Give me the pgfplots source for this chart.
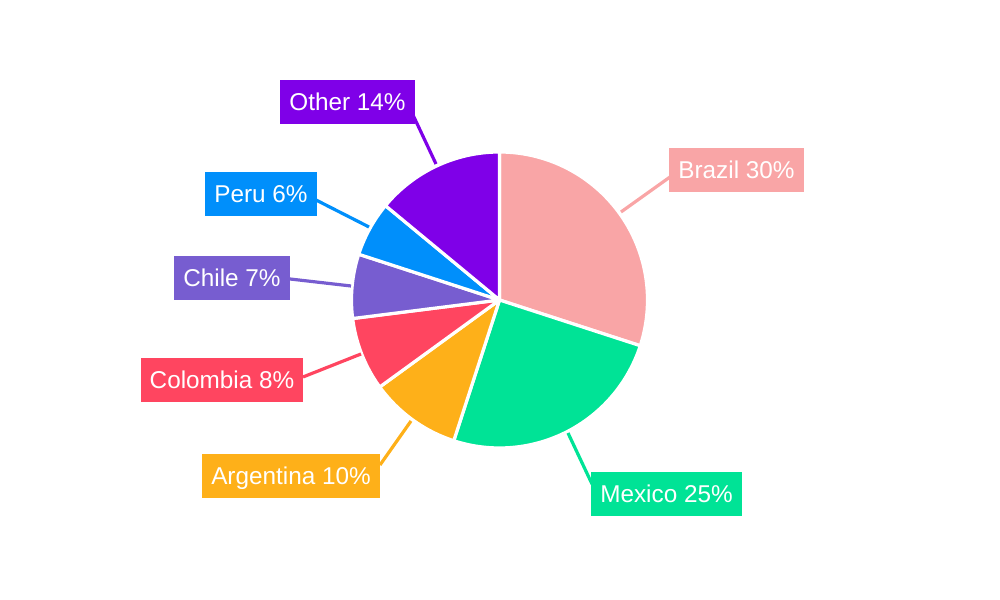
\documentclass[border=0pt]{standalone}
\usepackage{fontspec}
\setmainfont{Liberation Sans}
\usepackage{pgfplots}
\pgfplotsset{compat=1.18}

\definecolor{cBrazil}{HTML}{F9A5A6}
\definecolor{cMexico}{HTML}{00E396}
\definecolor{cArgentina}{HTML}{FEB019}
\definecolor{cColombia}{HTML}{FF4560}
\definecolor{cChile}{HTML}{775DD0}
\definecolor{cPeru}{HTML}{008FFB}
\definecolor{cOther}{HTML}{7F00E8}

\tikzset{
  slice/.style={draw=white, line width=1.6bp, line join=round},
  lead/.style={line width=1.6bp},
  lbl/.style={text=white, inner xsep=4.6bp, inner ysep=0pt,
    text height=8.7bp, text depth=0pt, minimum height=22bp,
    font=\fontsize{12.2}{14}\selectfont, anchor=center},
}

% shares: Brazil 30, Mexico 25, Argentina 10, Colombia 8, Chile 7, Peru 6, Other 14
% slices start at 12 o'clock and run clockwise (3.6 degrees per percent)

\begin{document}
\begin{tikzpicture}
\begin{axis}[
  scale only axis,
  width=500bp, height=300bp,
  xmin=0, xmax=1000, ymin=0, ymax=600,
  hide axis, clip=false,
  samples=60,
]
\addplot[slice, fill=cBrazil,    domain=-18:90]       ({499.5+148*cos(x)},{300+148*sin(x)}) -- (axis cs:499.5,300) -- cycle;
\addplot[slice, fill=cMexico,    domain=-108:-18]     ({499.5+148*cos(x)},{300+148*sin(x)}) -- (axis cs:499.5,300) -- cycle;
\addplot[slice, fill=cArgentina, domain=-144:-108]    ({499.5+148*cos(x)},{300+148*sin(x)}) -- (axis cs:499.5,300) -- cycle;
\addplot[slice, fill=cColombia,  domain=-172.8:-144]  ({499.5+148*cos(x)},{300+148*sin(x)}) -- (axis cs:499.5,300) -- cycle;
\addplot[slice, fill=cChile,     domain=-198:-172.8]  ({499.5+148*cos(x)},{300+148*sin(x)}) -- (axis cs:499.5,300) -- cycle;
\addplot[slice, fill=cPeru,      domain=-219.6:-198]  ({499.5+148*cos(x)},{300+148*sin(x)}) -- (axis cs:499.5,300) -- cycle;
\addplot[slice, fill=cOther,     domain=-270:-219.6]  ({499.5+148*cos(x)},{300+148*sin(x)}) -- (axis cs:499.5,300) -- cycle;

% leader lines
\addplot[lead, mark=none, cBrazil]    coordinates {(621,388) (670,423)};
\addplot[lead, mark=none, cMexico]    coordinates {(568,167) (592,116)};
\addplot[lead, mark=none, cArgentina] coordinates {(411,179) (380,135)};
\addplot[lead, mark=none, cColombia]  coordinates {(361,246) (303,223)};
\addplot[lead, mark=none, cChile]     coordinates {(351,314) (290,321)};
\addplot[lead, mark=none, cPeru]      coordinates {(369,373) (316,400)};
\addplot[lead, mark=none, cOther]     coordinates {(436,436) (413,485)};

\node[lbl, fill=cBrazil]    at (axis cs:736.5,430) {Brazil 30\%};
\node[lbl, fill=cMexico]    at (axis cs:666.5,106) {Mexico 25\%};
\node[lbl, fill=cArgentina] at (axis cs:291,124)   {Argentina 10\%};
\node[lbl, fill=cColombia]  at (axis cs:222,220)   {Colombia 8\%};
\node[lbl, fill=cChile]     at (axis cs:232,322)   {Chile 7\%};
\node[lbl, fill=cPeru]      at (axis cs:261,406)   {Peru 6\%};
\node[lbl, fill=cOther]     at (axis cs:347.5,498) {Other 14\%};
\end{axis}
\pgfresetboundingbox
\path (current axis.south west) rectangle (current axis.north east);
\end{tikzpicture}
\end{document}
